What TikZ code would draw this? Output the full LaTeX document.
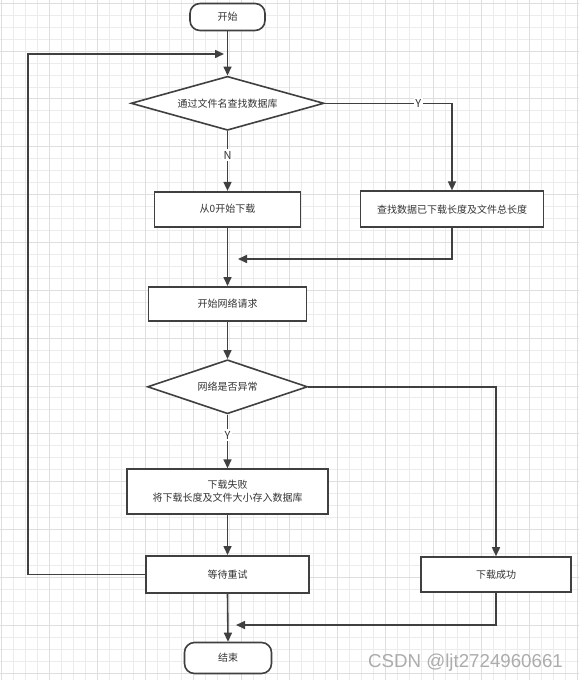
\documentclass[tikz,border=0pt]{standalone}
\usepackage{fontspec}
\setmainfont{Noto Sans CJK SC}
\newfontfamily\markfont{Liberation Sans}
\usetikzlibrary{shapes.geometric,arrows.meta}
\definecolor{ink}{RGB}{64,64,64}
\definecolor{txt}{RGB}{51,51,51}
\definecolor{gridminor}{RGB}{236,236,236}
\definecolor{gridmajor}{RGB}{222,222,222}

\begin{document}
\begin{tikzpicture}[x=1pt,y=-1pt,
  box/.style={draw=ink,line width=1.6pt,fill=white,inner sep=0pt,text=txt,font=\fontsize{10}{13}\selectfont,align=center},
  proc/.style={box,rectangle},
  term/.style={box,rectangle,rounded corners=10pt},
  dec/.style={box,diamond,inner sep=0pt},
  flow/.style={draw=ink,line width=1.6pt,-{Triangle[length=9pt,width=8pt]}},
  lbl/.style={fill=white,inner sep=1.5pt,text=txt,font=\fontsize{11}{12}\selectfont}]
\useasboundingbox (0,0) rectangle (579,680);
\fill [white] (0,0) rectangle (579,680);
\foreach \i in {0,...,48} \draw [gridminor,line width=1pt] ({1+12*\i},0) -- ({1+12*\i},680);
\foreach \i in {0,...,56} \draw [gridminor,line width=1pt] (0,{3.3+11.96*\i}) -- (579,{3.3+11.96*\i});
\foreach \i in {0,...,12} \draw [gridmajor,line width=1pt] ({1+48*\i},0) -- ({1+48*\i},680);
\foreach \i in {0,...,14} \draw [gridmajor,line width=1pt] (0,{3.3+47.84*\i}) -- (579,{3.3+47.84*\i});

\node [term,minimum width=75pt,minimum height=27pt] (start) at (227.5,17) {开始};
\node [dec,aspect=3.57,minimum width=193pt,minimum height=54pt] (q1) at (227.5,103.3) {通过文件名查找数据库};
\node [proc,minimum width=146pt,minimum height=35pt] (zero) at (227.5,209.2) {从0开始下载};
\node [proc,minimum width=183pt,minimum height=36pt] (find) at (452,209.2) {查找数据已下载长度及文件总长度};
\node [proc,minimum width=158pt,minimum height=34pt] (req) at (227.5,303.8) {开始网络请求};
\node [dec,aspect=2.96,minimum width=160pt,minimum height=54pt] (q2) at (227.5,386.8) {网络是否异常};
\node [proc,minimum width=201pt,minimum height=45pt] (fail) at (227.5,491.6) {下载失败\\将下载长度及文件大小存入数据库};
\node [proc,minimum width=163pt,minimum height=37pt] (wait) at (227.5,574.3) {等待重试};
\node [proc,minimum width=150pt,minimum height=35pt] (ok) at (496,574.5) {下载成功};
\node [term,minimum width=87pt,minimum height=31pt] (end) at (228,658) {结束};
\node [anchor=base west,inner sep=0pt,text=gray!65,font=\markfont\fontsize{18.7}{20}\selectfont] (mark) at (368,667.5) {CSDN @ljt2724960661};

\coordinate (left) at (28,54);
\coordinate (back) at (224,54);
\coordinate (j1) at (238,259);
\coordinate (j2) at (236,625);

\draw [flow] (start.south) -- (q1.north);
\draw [flow] (q1.east) -| node [lbl,pos=0.367] {Y} (find.north);
\draw [flow] (q1.south) -- node [lbl,pos=0.4] {N} (zero.north);
\draw [flow] (find.south) |- (j1);
\draw [flow] (zero.south) -- (req.north);
\draw [flow] (req.south) -- (q2.north);
\draw [flow] (q2.east) -| (ok.north);
\draw [flow] (q2.south) -- node [lbl,pos=0.38] {Y} (fail.north);
\draw [flow] (fail.south) -- (wait.north);
\draw [flow] (wait.south) -- (end.north);
\draw [flow] (ok.south) |- (j2);
\draw [flow] (wait.west) -| (left) -- (back);
\end{tikzpicture}
\end{document}
